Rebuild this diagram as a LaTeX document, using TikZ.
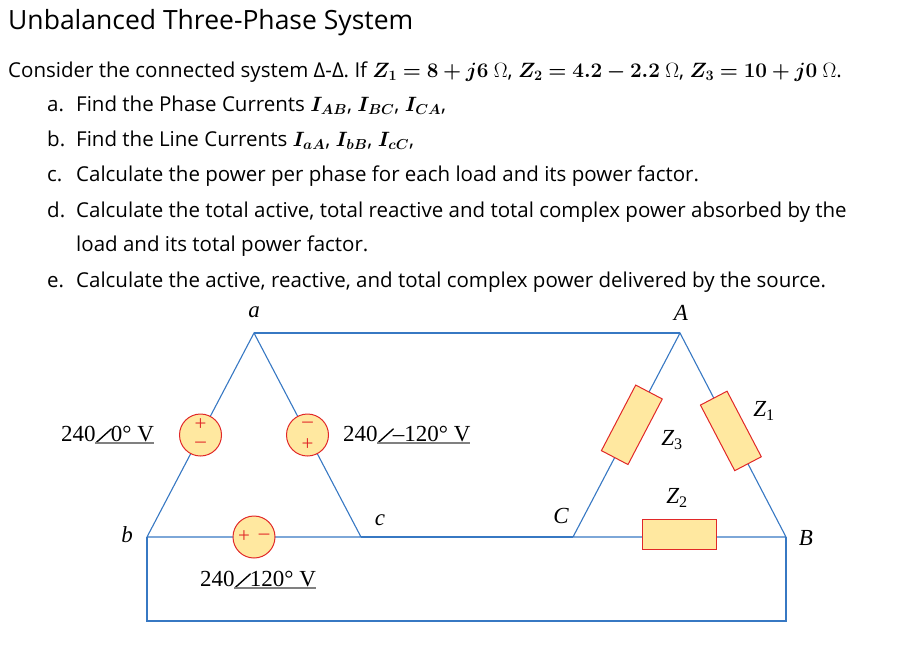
\documentclass[tikz,border=0pt]{standalone}
\usepackage{fontspec}
\usepackage{amsmath,bm,graphicx}
\usetikzlibrary{calc}
\setmainfont{Open Sans}
\newfontfamily\ser{Liberation Serif}
\definecolor{wire}{RGB}{55,120,195}
\definecolor{rd}{RGB}{225,40,40}
\definecolor{yl}{RGB}{255,232,160}
\newcommand\myang[1]{\setbox0\hbox{#1}\raisebox{-0.08em}{\rotatebox{42}{\rule{0.9em}{0.06em}}}\kern-0.05em\rlap{\hspace{-0.68em}\raisebox{-0.12em}{\color{gray}\rule{\dimexpr\wd0+0.68em}{0.07em}}}\box0}
\begin{document}
\begin{tikzpicture}[x=1pt,y=-1pt,
  txt/.style={anchor=base west,inner sep=0,font=\fontsize{20.5}{22}\selectfont},
  lbl/.style={inner sep=0,font=\ser\fontsize{23}{26}\selectfont},
  il/.style={inner sep=0,font=\ser\itshape\fontsize{23}{26}\selectfont},
  w/.style={draw=wire,line width=1.1pt},
  src/.style={circle,draw=rd,fill=yl,line width=1pt,minimum size=42pt,inner sep=0},
  pm/.style={text=rd,inner sep=0,font=\ser\fontsize{21}{21}\selectfont},
  imp/.style={rectangle,draw=rd,fill=yl,line width=1pt,minimum width=74pt,minimum height=30pt,inner sep=0}]
\useasboundingbox (0,0) rectangle (924,670);
\node[txt,font=\fontsize{26.5}{28}\selectfont] (t) at (8,29) {Unbalanced Three-Phase System};
\node[txt] (l0) at (8,77) {Consider the connected system Δ-Δ. If $\bm{Z_1 = 8 + j6}\ \Omega$, $\bm{Z_2 = 4.2 - 2.2}\ \Omega$, $\bm{Z_3 = 10 + j0}\ \Omega$.};
\node[txt] (la) at (47,111) {a.};
\node[txt] (ta) at (76,111) {Find the Phase Currents $\bm{I_{AB}}$, $\bm{I_{BC}}$, $\bm{I_{CA}}$,};
\node[txt] (lb) at (47,146) {b.};
\node[txt] (tb) at (76,146) {Find the Line Currents $\bm{I_{aA}}$, $\bm{I_{bB}}$, $\bm{I_{cC}}$,};
\node[txt] (lc) at (47,181) {c.};
\node[txt] (tc) at (76,181) {Calculate the power per phase for each load and its power factor.};
\node[txt] (ld) at (47,217) {d.};
\node[txt] (td) at (76,217) {Calculate the total active, total reactive and total complex power absorbed by the};
\node[txt] (td2) at (76,251) {load and its total power factor.};
\node[txt] (le) at (47,287) {e.};
\node[txt] (te) at (76,287) {Calculate the active, reactive, and total complex power delivered by the source.};
% nodes
\coordinate (a) at (254,333); \coordinate (b) at (147,537); \coordinate (c) at (361,537);
\coordinate (A) at (680,333); \coordinate (C) at (573,537); \coordinate (B) at (786,537);
\coordinate (bl) at (147,621); \coordinate (br) at (786,621);
\draw[w] (b) -- (a) -- (c) -- cycle;
\draw[w] (C) -- (A) -- (B) -- cycle;
\draw[w] (a) -- (A); \draw[w] (c) -- (C); \draw[w] (b) -- (bl) -- (br) -- (B);
\node[src] (s1) at ($(b)!0.5!(a)$) {}; 
\node[src] (s2) at ($(c)!0.5!(a)$) {};
\node[src] (s3) at ($(b)!0.5!(c)$) {};
\node[pm] (p1) at ([yshift=10]s1.center) {+};
\node[pm] (m1) at ([yshift=-10]s1.center) {–};
\node[pm] (m2) at ([yshift=10]s2.center) {–};
\node[pm] (p2) at ([yshift=-10]s2.center) {+};
\node[pm] (p3) at ([xshift=-10]s3.center) {+};
\node[pm] (m3) at ([xshift=10]s3.center) {–};
\node[imp,rotate=-62.4] (z1) at ($(A)!0.48!(B)$) {};
\node[imp,rotate=62.4] (z3) at ($(A)!0.45!(C)$) {};
\node[imp] (z2) at (679,534) {};
\node[il] (na) at (254,312) {a};
\node[il] (nb) at (127,535) {b};
\node[il] (nc) at (380,520) {c};
\node[il] (nA) at (681,313) {A};
\node[il] (nC) at (561,516) {C};
\node[il] (nB) at (806,538) {B};
\node[lbl] (zl1) at (764,411) {\itshape Z\textsubscript{\upshape 1}};
\node[lbl] (zl3) at (672,440) {\itshape Z\textsubscript{\upshape 3}};
\node[lbl] (zl2) at (677,498) {\itshape Z\textsubscript{\upshape 2}};
\node[lbl,anchor=west] (v1) at (61,435) {240\myang{0° V}};
\node[lbl,anchor=west] (v2) at (343,435) {240\myang{–120° V}};
\node[lbl,anchor=west] (v3) at (200,580) {240\myang{120° V}};
\end{tikzpicture}
\end{document}
